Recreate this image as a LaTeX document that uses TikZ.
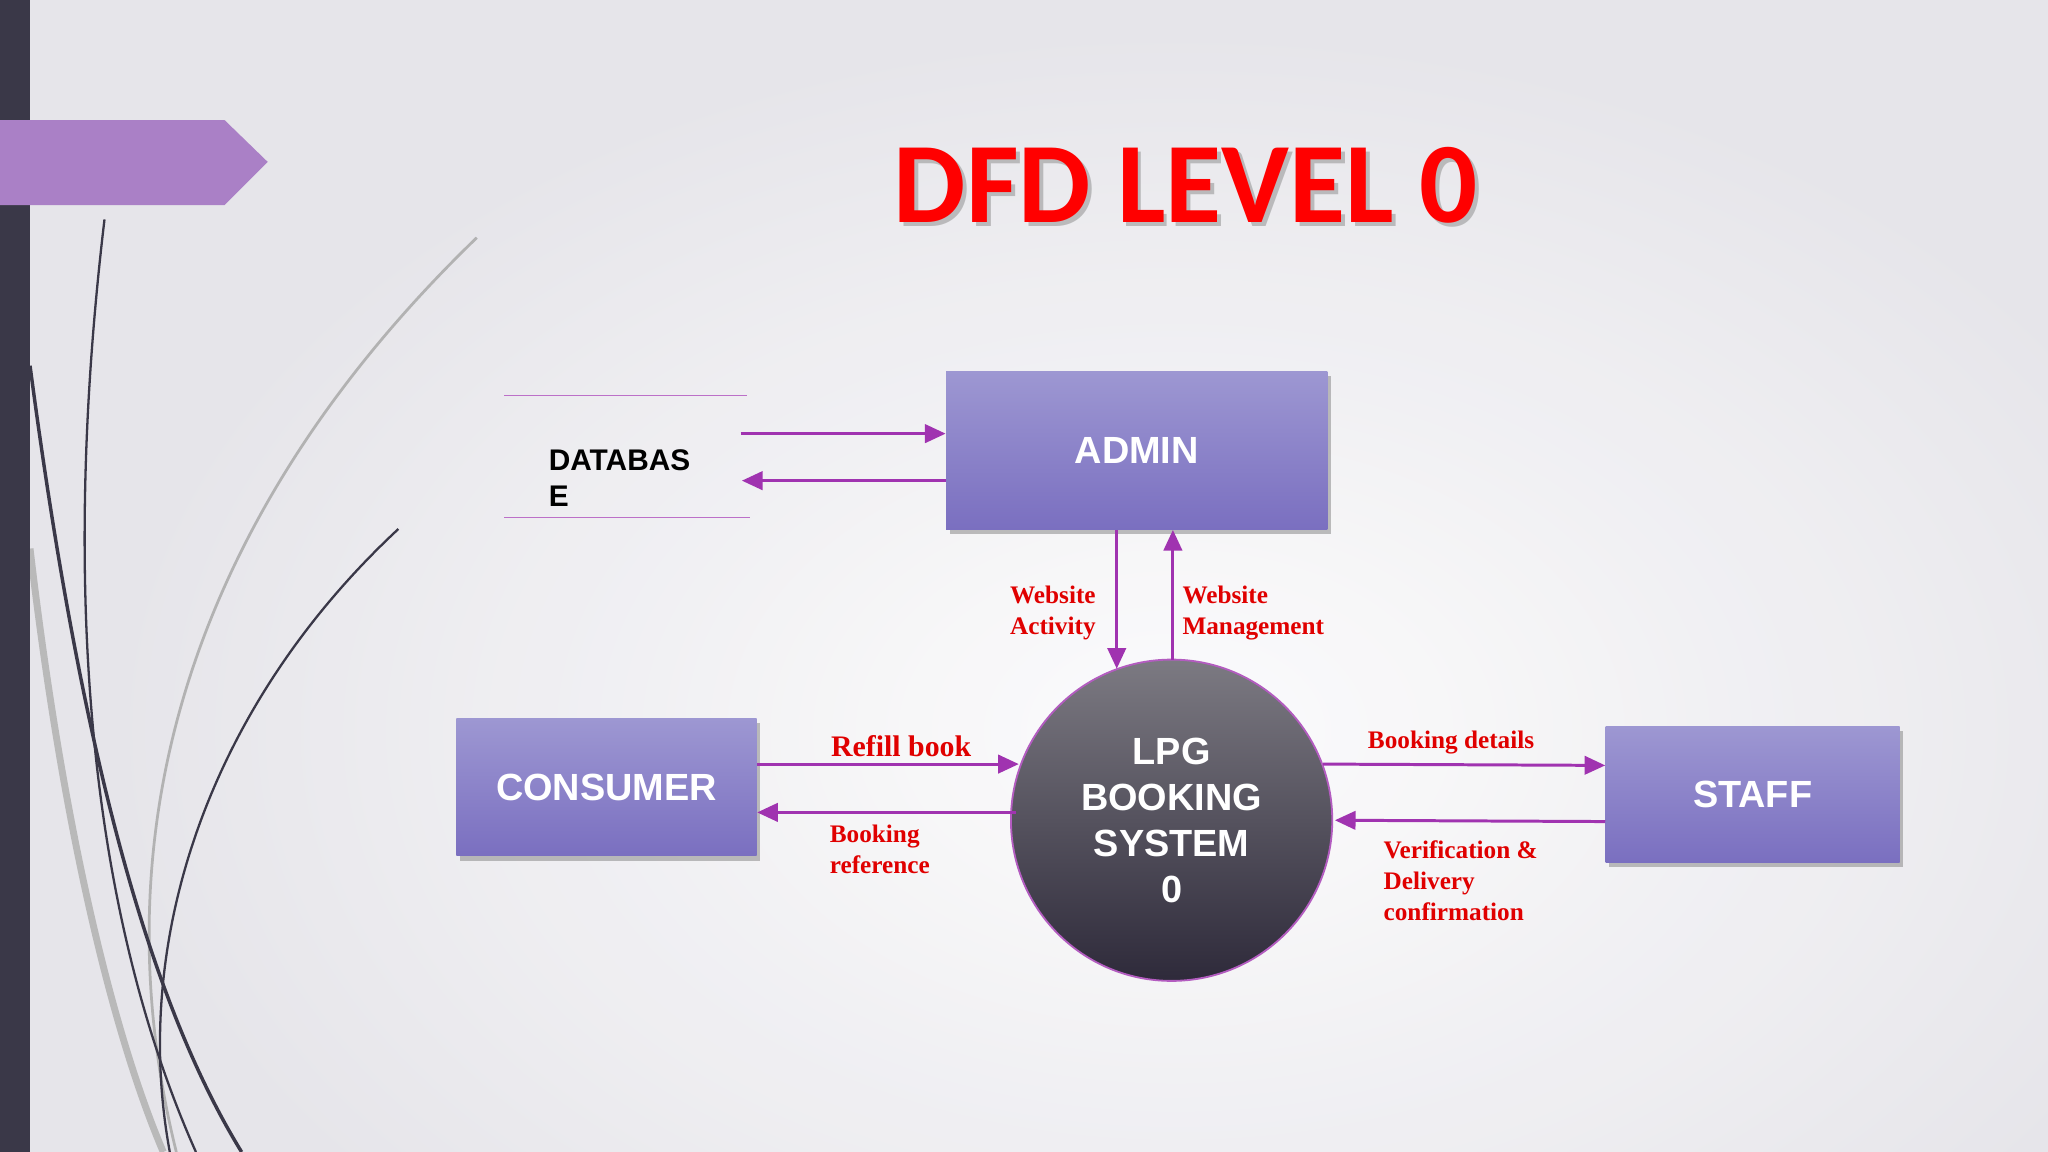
\documentclass[tikz,border=0pt]{standalone}
\usepackage{fontspec}
\setmainfont{Liberation Serif}
\setsansfont{Liberation Sans}
\newfontfamily\titlefont{Carlito}
\usetikzlibrary{arrows.meta,shadows}
\definecolor{bgc}{HTML}{E6E5EA}
\definecolor{barc}{HTML}{3A3848}
\definecolor{tabc}{HTML}{AA80C6}
\definecolor{boxtop}{HTML}{9D97D2}
\definecolor{boxbot}{HTML}{7A6FC0}
\definecolor{arr}{HTML}{A033B0}
\definecolor{lbl}{HTML}{E00000}
\definecolor{ctop}{HTML}{7C7A82}
\definecolor{cbot}{HTML}{2E2A3A}
\tikzset{
  x=0.02cm, y=-0.02cm,
  boxnode/.style={rectangle, top color=boxtop, bottom color=boxbot, draw=none,
     drop shadow={shadow xshift=1.5pt, shadow yshift=-2pt, opacity=0.5},
     text=white, font=\sffamily\bfseries\fontsize{16.5}{19}\selectfont, anchor=north west},
  flow/.style={draw=arr, line width=1.3pt, -{Triangle[length=9pt,width=8pt]}},
  lab/.style={text=lbl, font=\bfseries\fontsize{11}{13.6}\selectfont, align=left, anchor=north west, inner sep=0pt},
  deco/.style={line width=1pt}
}
\begin{document}
\begin{tikzpicture}
\useasboundingbox (0,0) rectangle (1568,882);
\fill[bgc] (0,0) rectangle (1568,882);
\shade[inner color=white, outer color=bgc, opacity=0.9] (900,560) ellipse [x radius=850, y radius=560];
% decorative curves
\draw[deco, gray!60, line width=1.2pt] (365,182) .. controls (160,380) and (70,620) .. (135,882);
\draw[deco, barc] (80,168) .. controls (50,420) and (60,680) .. (150,882);
\draw[deco, barc] (305,405) .. controls (160,540) and (100,720) .. (130,882);
\draw[deco, barc, line width=1.5pt] (23,280) .. controls (60,560) and (110,760) .. (185,882);
\draw[deco, gray!55, line width=3pt] (23,420) .. controls (50,650) and (90,800) .. (125,882);
\fill[barc] (0,0) rectangle (23,882);
\fill[tabc] (0,92) -- (172,92) -- (205,124) -- (172,157) -- (0,157) -- cycle;
% title
\node[font=\titlefont\bfseries\fontsize{50}{56}\selectfont, text=black!40, opacity=0.6] at (911,145) {DFD LEVEL 0};
\node (title) [font=\titlefont\bfseries\fontsize{50}{56}\selectfont, text=red] at (908,142) {DFD LEVEL 0};
% database
\draw[arr!70, line width=0.6pt] (386,303) -- (572,303);
\draw[arr!70, line width=0.6pt] (386,396) -- (574,396);
\node (db) [font=\sffamily\bfseries\fontsize{13}{16}\selectfont, align=left, anchor=west] at (414,366) {DATABAS\\E};
\coordinate (dbin) at (567,332);
\coordinate (dbout) at (568,368);
% boxes
\node (admin) [boxnode, minimum width=292*0.02cm, minimum height=121*0.02cm] at (724,284) {ADMIN};
\node (consumer) [boxnode, minimum width=230*0.02cm, minimum height=105*0.02cm] at (349,550) {CONSUMER};
\node (staff) [boxnode, minimum width=225*0.02cm, minimum height=104*0.02cm] at (1229,556) {STAFF};
% process
\node (proc) [circle, minimum size=246*0.02cm, top color=ctop, bottom color=cbot, draw=arr!80, line width=0.8pt,
   text=white, font=\sffamily\bfseries\fontsize{16.5}{20}\selectfont, align=center, inner sep=0pt] at (897,628)
   {LPG\\BOOKING\\SYSTEM\\0};
% flows
\draw[flow] (dbin) -- (admin.west |- dbin);
\draw[flow] (admin.west |- dbout) -- (dbout);
\draw[flow] (admin.south -| 855,0) -- (855,512);
\draw[flow] (898,505) -- (admin.south -| 898,0);
\draw[flow] (consumer.east |- 0,585) -- (780,585);
\draw[flow] (778,622) -- (consumer.east |- 0,622);
\draw[flow] (1013,585) -- (staff.west |- 0,586);
\draw[flow] (staff.west |- 0,629) -- (1022,628);
% labels
\node (l1) [lab] at (773,448) {Website\\Activity};
\node (l2) [lab] at (905,448) {Website\\Management};
\node (l3) [lab, font=\bfseries\fontsize{13}{15}\selectfont] at (636,563) {Refill book};
\node (l4) [lab] at (635,631) {Booking\\reference};
\node (l5) [lab] at (1047,559) {Booking details};
\node (l6) [lab] at (1059,643) {Verification \&\\Delivery\\confirmation};
\end{tikzpicture}
\end{document}
